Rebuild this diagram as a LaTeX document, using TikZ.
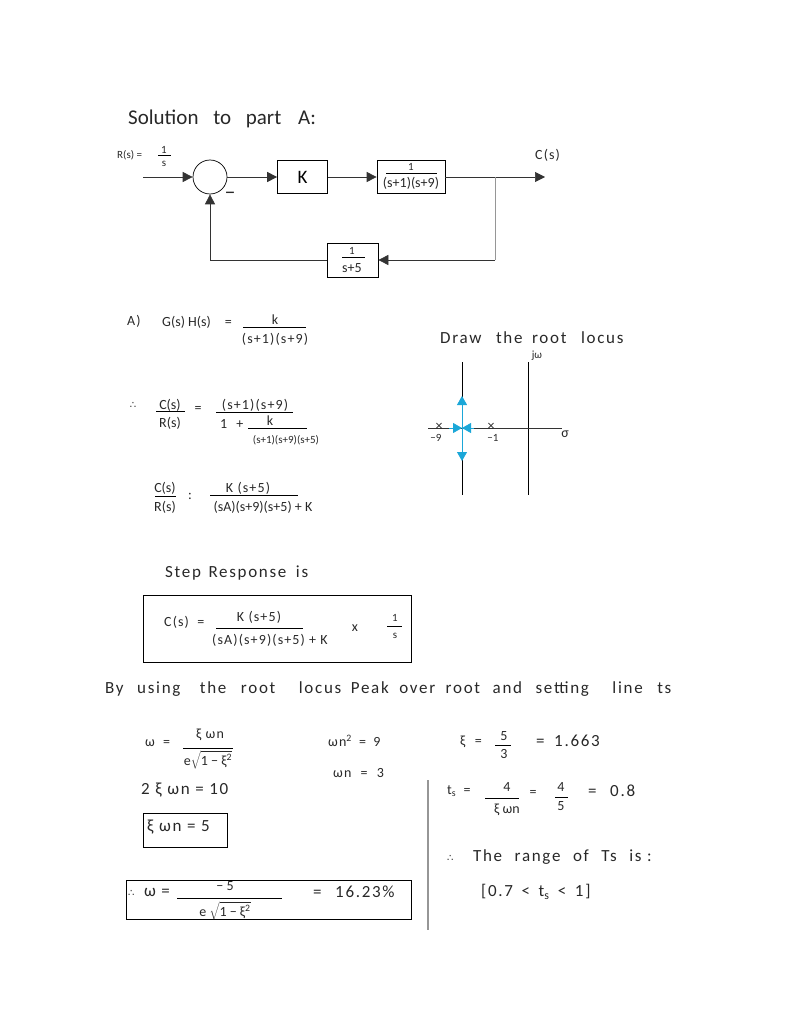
\documentclass[tikz,border=0pt]{standalone}
\usepackage{fontspec}
\setmainfont{Carlito}
\newfontfamily\symfont{DejaVu Sans}
\usepackage{tikz}
\usetikzlibrary{arrows.meta,positioning,calc}
\definecolor{loblue}{RGB}{27,167,216}
\definecolor{logray}{RGB}{150,150,150}
\definecolor{loink}{RGB}{40,40,40}
\newcommand{\thus}{{\symfont\fontsize{10}{12}\selectfont ∴}}
\tikzset{
  hand/.style={inner sep=0pt, text=loink, font=\fontsize{14}{16}\selectfont},
  handwide/.style={inner sep=0pt, text=loink, font=\fontsize{14}{16}\selectfont\addfontfeature{LetterSpace=8}},
  handsm/.style={inner sep=0pt, text=loink, font=\fontsize{11}{13}\selectfont},
  handlg/.style={inner sep=0pt, text=loink, font=\fontsize{21}{24}\selectfont, anchor=west},
  handmd/.style={inner sep=0pt, text=loink, font=\fontsize{17}{20}\selectfont\addfontfeature{LetterSpace=10}, anchor=west},
  block/.style={draw=black, line width=0.7pt, inner sep=0pt},
  sigline/.style={draw=black!80, line width=0.7pt},
  sigarrow/.style={sigline, -{Triangle[length=10pt,width=10pt]}},
  bluearrow/.style={draw=loblue, line width=0.8pt, -{Triangle[length=9pt,width=10pt]}},
  fracbar/.style={draw=black, line width=0.6pt},
  axisline/.style={draw=black, line width=0.8pt},
  answerbox/.style={draw=black, line width=0.7pt}
}
\begin{document}
\begin{tikzpicture}[x=1pt, y=-1pt]
  \useasboundingbox (0,0) rectangle (791,1024);

  % Title
  \node[handlg] (title) at (128,119) {Solution\hspace{10pt} to\hspace{10pt} part\hspace{12pt} A:};

  % Block diagram
  \coordinate (rin) at (143,177);
  \node[draw=black, line width=0.7pt, circle, minimum size=34pt, inner sep=0pt] (sum) at (210,177) {};
  \node[block, minimum width=50pt, minimum height=33pt, font=\fontsize{19}{22}\selectfont] (gain) at (302.5,177) {K};
  \node[block, minimum width=68pt, minimum height=33pt] (plant) at (411,177) {};
  \node[block, minimum width=51pt, minimum height=34pt] (sensor) at (352.5,260) {};
  \coordinate (branch) at (495,177);
  \coordinate (cout) at (545,177);
  \coordinate (backup) at (495,260);
  \coordinate (backleft) at (210,260);

  \draw[sigarrow] (rin) -- (sum.west);
  \draw[sigarrow] (sum.east) -- (gain.west);
  \draw[sigarrow] (gain.east) -- (plant.west);
  \draw[sigarrow] (plant.east) -- (cout);
  \draw[draw=logray, line width=1pt] (branch) -- (backup);
  \draw[sigarrow] (backup) -- (sensor.east);
  \draw[sigline] (sensor.west) -- (backleft);
  \draw[sigarrow] (backleft) -- (sum.south);

  % Block labels
  \node[handsm] (plantnum) at (411,167) {1};
  \draw[fracbar] (386,173) -- (437,173);
  \node[hand] (plantden) at (411,183) {(s+1)(s+9)};
  \node[handsm] (sensornum) at (352,251) {1};
  \draw[fracbar] (342,257) -- (365,257);
  \node[hand] (sensorden) at (352,268) {s+5};
  \node[handlg, anchor=center] (minus) at (230,196) {−};
  \node[handsm, anchor=west] (rlabel) at (117,155) {R(s) =};
  \node[handsm] (rnum) at (164,150) {1};
  \draw[fracbar] (158,155) -- (171,155);
  \node[handsm] (rden) at (164,164) {s};
  \node[handwide, anchor=west] (clabel) at (535,155) {C(s)};

  % Transfer function
  \node[handwide, anchor=west] (parta) at (127,321) {A)};
  \node[hand, anchor=west] (ghlabel) at (162,322) {G(s) H(s)\hspace{11pt} =};
  \node[hand] (ghnum) at (275,320) {k};
  \draw[fracbar] (243,327) -- (306,327);
  \node[handwide] (ghden) at (275,339) {(s+1)(s+9)};

  \node[hand] (thusa) at (133,405) {\thus};
  \node[hand] (crnum) at (170,405) {C(s)};
  \draw[fracbar] (156,411) -- (185,411);
  \node[hand] (crden) at (170,423) {R(s)};
  \node[hand] (crequal) at (198,409) {=};
  \node[handwide] (onenum) at (255,405) {(s+1)(s+9)};
  \draw[fracbar] (216,412) -- (293,412);
  \node[hand, anchor=west] (oneplus) at (220,424) {1\hspace{6pt} +};
  \node[hand] (knum) at (270,421) {k};
  \draw[fracbar] (248,428) -- (307,428);
  \node[handsm] (kden) at (286,440) {(s+1)(s+9)(s+5)};

  \node[hand] (clnum) at (165,488) {C(s)};
  \draw[fracbar] (155,496) -- (176,496);
  \node[hand] (clden) at (165,507) {R(s)};
  \node[hand] (clequal) at (190,496) {:};
  \node[handwide] (closednum) at (248,488) {K (s+5)};
  \draw[fracbar] (210,495) -- (298,495);
  \node[hand] (closedden) at (263,507) {(sA)(s+9)(s+5) + K};

  % Root locus
  \node[handmd] (locustitle) at (440,338) {Draw\hspace{9pt} the\hspace{4pt} root\hspace{9pt} locus};
  \node[handsm] (jwlabel) at (537,356) {jω};
  \coordinate (imtop) at (528,362);
  \coordinate (imbot) at (528,495);
  \coordinate (lotop) at (462,362);
  \coordinate (lobot) at (462,495);
  \coordinate (releft) at (428,428);
  \coordinate (reright) at (562,428);
  \coordinate (split) at (462,428);
  \coordinate (uptip) at (462,396);
  \coordinate (downtip) at (462,461);
  \coordinate (fromnine) at (449,428);
  \coordinate (fromone) at (474,428);
  \draw[axisline] (imtop) -- (imbot);
  \draw[axisline] (lotop) -- (lobot);
  \draw[sigline] (releft) -- (reright);
  \node[hand] (polenine) at (439,427) {×};
  \node[hand] (poleone) at (491,427) {×};
  \draw[bluearrow] (fromnine) -- (split);
  \draw[bluearrow] (fromone) -- (split);
  \draw[bluearrow] (split) -- (uptip);
  \draw[bluearrow] (split) -- (downtip);
  \node[handsm] (ninelabel) at (436,438) {−9};
  \node[handsm] (onelabel) at (493,438) {−1};
  \node[hand] (sigmalabel) at (565,434) {σ};

  % Step response
  \node[handmd] (steptitle) at (165,573) {Step\hspace{2pt} Response\hspace{4pt} is};
  \node[answerbox, minimum width=268pt, minimum height=67pt] (stepbox) at (277,629) {};
  \node[handwide, anchor=west] (steplabel) at (164,622) {C(s)\hspace{4pt} =};
  \node[handwide] (stepnum) at (259,617) {K (s+5)};
  \draw[fracbar] (216,628) -- (303,628);
  \node[handwide] (stepden) at (270,640) {(sA)(s+9)(s+5) + K};
  \node[hand] (steptimes) at (355,628) {x};
  \node[handsm] (stepone) at (395,618) {1};
  \draw[fracbar] (387,626) -- (402,626);
  \node[handsm] (steps) at (395,636) {s};

  % Method line
  \node[handmd] (method) at (105,689) {By\hspace{8pt} using\hspace{14pt} the\hspace{9pt} root\hspace{18pt} locus\hspace{4pt} Peak\hspace{5pt} over\hspace{5pt} root\hspace{7pt} and\hspace{8pt} setting\hspace{18pt} line\hspace{9pt} ts};

  % Overshoot
  \node[handwide, anchor=west] (wlabel) at (145,743) {ω\hspace{4pt} =};
  \node[handwide] (wnum) at (210,735) {ξ ωn};
  \draw[fracbar] (183,748) -- (233,748);
  \node[hand] (wden) at (208,760) {e$\sqrt{\hbox{1 − ξ\textsuperscript{2}}}$};
  \node[handwide, anchor=west] (wnsq) at (328,741) {ωn\textsuperscript{2}\hspace{3pt} =\hspace{3pt} 9};
  \node[handwide, anchor=west] (wnval) at (333,773) {ωn\hspace{5pt} =\hspace{5pt} 3};
  \node[handmd] (twoz) at (141,790) {2 ξ ωn = 10};
  \node[block, minimum width=84pt, minimum height=34pt] (zetabox) at (185,830) {};
  \node[handmd] (zetaeq) at (147,827) {ξ ωn = 5};
  \node[answerbox, minimum width=285pt, minimum height=39pt] (osbox) at (268.5,899.5) {};
  \node[handmd] (oslabel) at (128,892) {\thus\hspace{4pt} ω =};
  \node[hand] (osnum) at (225,886) {− 5};
  \draw[fracbar] (177,898) -- (282,898);
  \node[hand] (osden) at (225,911) {e $\sqrt{\hbox{1 − ξ\textsuperscript{2}}}$};
  \node[handmd] (osval) at (313,892) {=\hspace{8pt} 16.23\%};

  % Settling time
  \node[handwide, anchor=west] (xilabel) at (460,742) {ξ\hspace{5pt} =};
  \node[hand] (xinum) at (504,736) {5};
  \draw[fracbar] (495,745) -- (511,745);
  \node[hand] (xiden) at (504,754) {3};
  \node[handmd] (xival) at (536,741) {=\hspace{4pt} 1.663};
  \coordinate (septop) at (428,780);
  \coordinate (sepbot) at (428,930);
  \draw[draw=logray, line width=1.3pt] (septop) -- (sepbot);
  \node[handwide, anchor=west] (tslabel) at (447,791) {t\textsubscript{s}\hspace{3pt} =};
  \node[hand] (tsnum) at (507,787) {4};
  \draw[fracbar] (485,798) -- (519,798);
  \node[hand] (tsden) at (507,810) {ξ ωn};
  \node[hand] (tsequal) at (533,793) {=};
  \node[hand] (fournum) at (561,787) {4};
  \draw[fracbar] (555,797) -- (568,797);
  \node[hand] (fourden) at (561,806) {5};
  \node[handmd] (tsval) at (588,791) {=\hspace{8pt} 0.8};
  \node[handmd] (range) at (447,857) {\thus\hspace{14pt} The\hspace{7pt} range\hspace{7pt} of\hspace{7pt} Ts\hspace{7pt} is :};
  \node[handmd] (rangeval) at (481,892) {[0.7\hspace{3pt} <\hspace{3pt} t\textsubscript{s}\hspace{3pt} <\hspace{3pt} 1]};
\end{tikzpicture}
\end{document}
